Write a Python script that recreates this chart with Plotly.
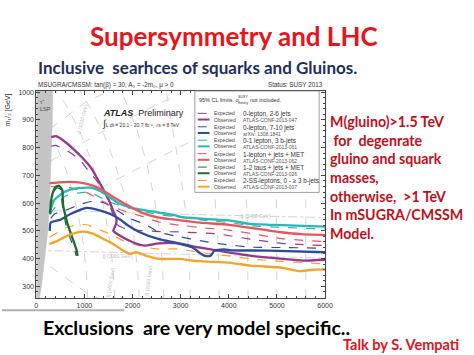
import plotly.graph_objects as go

W, H = 474, 355

# ---------------- data ----------------
analyses = ["0-lepton, 2-6 jets", "0-lepton, 7-10 jets", "0-1 lepton, 3 b-jets",
            "1-lepton + jets + MET", "1-2 taus + jets + MET", "2-SS-leptons, 0 - \u2265 3 b-jets"]
refs = ["ATLAS-CONF-2013-047", "arXiv: 1308.1841", "ATLAS-CONF-2013-061",
        "ATLAS-CONF-2013-062", "ATLAS-CONF-2013-026", "ATLAS-CONF-2013-007"]
colors = ["#94398f", "#2f4c9c", "#2bb8b2", "#e9555d", "#1d6b34", "#f3a42a"]

# 0-lepton 2-6 jets
obs0_m0 = [311, 413, 581, 785, 988, 1159, 1294, 1429, 1531, 1599, 1660, 1665, 1635, 1600, 1735, 2005, 2243, 2549, 2956, 3360, 3772, 4444, 5123, 5530, 6000]
obs0_m12 = [838, 841, 823, 793, 758, 722, 680, 638, 602, 572, 548, 530, 515, 501, 483, 459, 447, 455, 455, 441, 429, 411, 399, 393, 396]
exp0_m0 = [311, 400, 718, 921, 1090, 1260, 1395, 1497, 1565, 1633, 1700, 1900, 2500, 3000, 3767, 4450, 5100, 6000]
exp0_m12 = [805, 808, 781, 752, 716, 680, 644, 608, 572, 540, 520, 505, 498, 496, 489, 470, 455, 447]
# 0-lepton 7-10 jets
obs1_m0 = [280, 300, 500, 700, 1050, 1300, 1550, 1750, 1900, 2150, 2550, 2950, 3250, 3400, 3500, 3620, 3700, 3900, 4050, 4850, 6000]
obs1_m12 = [500, 530, 540, 560, 583, 575, 560, 540, 520, 495, 470, 455, 440, 420, 410, 410, 428, 433, 430, 429, 423]
exp1_m0 = [300, 380, 580, 920, 1190, 1400, 1670, 1940, 2280, 2550, 3000, 3400, 3830, 4500, 5200, 6000]
exp1_m12 = [545, 561, 572, 596, 608, 602, 575, 545, 522, 495, 478, 465, 453, 441, 440, 437]
# 0-1 lepton 3 b-jets
obs2_m0 = [277, 378, 581, 785, 1057, 1124, 1327, 1531, 1734, 2005, 2549, 2888, 3000, 3495, 4038, 4444, 4851, 5394, 6000]
obs2_m12 = [566, 612, 640, 652, 656, 656, 644, 620, 598, 582, 566, 556, 550, 543, 537, 525, 522, 519, 515]
exp2_m0 = [280, 600, 1100, 1500, 1800, 2500, 3000, 3500, 4000, 4500, 5000, 6000]
exp2_m12 = [560, 625, 640, 605, 588, 560, 549, 538, 530, 518, 513, 507]
# 1-lepton + jets + MET
obs3_m0 = [277, 580, 920, 1190, 1400, 1600, 1870, 2200, 2550, 3000, 3400, 4000, 4500, 5100, 5500, 6000]
obs3_m12 = [672, 676, 674, 662, 645, 622, 595, 565, 548, 538, 530, 522, 510, 495, 488, 485]
exp3_m0 = [300, 700, 1050, 1330, 1530, 1750, 2150, 2550, 3000, 3400, 4000, 4450, 5100, 6000]
exp3_m12 = [660, 656, 638, 612, 592, 576, 555, 532, 520, 512, 503, 491, 472, 461]
# 1-2 taus + jets + MET
obs4_m0 = [290, 300, 340, 400, 470, 540, 550, 560, 600, 650, 720, 780, 830, 860]
obs4_m12 = [560, 600, 635, 658, 663, 648, 620, 590, 560, 525, 490, 460, 435, 410]
exp4_m0 = [300, 360, 430, 500, 530, 560, 620, 700, 760, 800, 830]
exp4_m12 = [580, 640, 655, 650, 610, 570, 520, 475, 450, 430, 410]
# 2-SS-leptons
obs5_m0 = [277, 447, 650, 854, 988, 1192, 1395, 1599, 1802, 1938, 2073, 2276, 2549, 2956, 3360, 4038, 4444, 5123, 5462, 5733, 6000]
obs5_m12 = [453, 465, 483, 495, 497, 489, 471, 453, 429, 417, 423, 411, 399, 399, 391, 385, 375, 367, 355, 360, 361]
exp5_m0 = [277, 447, 650, 854, 1057, 1260, 1531, 1802, 2142, 2480, 2956, 3360, 4038, 4444, 5123, 6000]
exp5_m12 = [477, 495, 513, 522, 522, 507, 489, 465, 447, 435, 435, 423, 409, 399, 390, 381]

observed = [(obs0_m0, obs0_m12), (obs1_m0, obs1_m12), (obs2_m0, obs2_m12),
            (obs3_m0, obs3_m12), (obs4_m0, obs4_m12), (obs5_m0, obs5_m12)]
expected = [(exp0_m0, exp0_m12), (exp1_m0, exp1_m12), (exp2_m0, exp2_m12),
            (exp3_m0, exp3_m12), (exp4_m0, exp4_m12), (exp5_m0, exp5_m12)]

# stau-LSP boundary (m0 at given m1/2)
lsp_m0 = [0, 65, 108, 175, 240, 277, 300, 320, 335, 345, 0]
lsp_m12 = [257, 257, 300, 400, 500, 600, 700, 800, 900, 1004, 1004]

# iso-squark mass contours (read off, approximate)
squark_lines = [
    ([1070, 1040, 980, 880, 760, 600, 380], [257, 350, 450, 550, 640, 730, 820]),
    ([1630, 1600, 1540, 1440, 1320, 1150, 900, 600, 400], [257, 350, 450, 550, 650, 750, 860, 960, 1004]),
    ([2140, 2110, 2050, 1960, 1800, 1620, 1400, 1100, 900], [257, 350, 450, 550, 650, 750, 850, 950, 1004]),
    ([2650, 2620, 2560, 2450, 2300, 2100, 1850, 1750], [257, 380, 500, 620, 740, 860, 970, 1004]),
    ([3200, 3180, 3120, 3000, 2850, 2700], [257, 400, 550, 700, 850, 1004]),
    ([3800, 3780, 3700, 3600, 3500], [257, 450, 650, 800, 1004]),
    ([4400, 4390, 4350, 4300], [257, 500, 700, 1004]),
    ([5000, 4990, 4950], [257, 600, 1004]),
    ([5600, 5600], [257, 1004]),
]
gluino_lines = [
    ([0, 2000, 4000, 6000], [430, 420, 410, 402]),
    ([0, 3000, 6000], [575, 560, 548]),
]
higgs_lines = [
    ([300, 1000, 1500], [870, 960, 1004]),
    ([300, 1500, 3100], [752, 870, 1004]),
    ([1330, 2500, 3300], [655, 760, 830]),
    ([300, 700, 1100, 1300], [370, 320, 270, 257]),
]

x_ticks = [0, 1000, 2000, 3000, 4000, 5000, 6000]
y_ticks = [300, 400, 500, 600, 700, 800, 900, 1000]

right_lines = ["M(gluino)>1.5 TeV", "\u00a0for\u00a0 degenrate", "gluino and squark", "masses,",
               "otherwise,\u00a0 >1 TeV", "In mSUGRA/CMSSM", "Model."]

# ---------------- helpers ----------------
def px(x):
    return x / W

def py(y):
    return 1 - y / H

X0, X1 = 35, 330
Y0, Y1 = 89.5, 298

fig = go.Figure()

GRAY = "#cfcfcf"
for xs, ys in squark_lines:
    fig.add_trace(go.Scatter(x=xs, y=ys, mode="lines", line=dict(color=GRAY, width=0.9, dash="dash"),
                             hoverinfo="skip", showlegend=False))
for xs, ys in gluino_lines:
    fig.add_trace(go.Scatter(x=xs, y=ys, mode="lines", line=dict(color=GRAY, width=0.9, dash="dashdot"),
                             hoverinfo="skip", showlegend=False))
for xs, ys in higgs_lines:
    fig.add_trace(go.Scatter(x=xs, y=ys, mode="lines", line=dict(color=GRAY, width=0.9, dash="dash"),
                             hoverinfo="skip", showlegend=False))

fig.add_trace(go.Scatter(x=lsp_m0, y=lsp_m12, mode="lines", fill="toself", fillcolor="#c4c4c4",
                         line=dict(color="#c4c4c4", width=0.5), hoverinfo="skip", showlegend=False))

for (xs, ys), c in zip(expected, colors):
    fig.add_trace(go.Scatter(x=xs, y=ys, mode="lines", line=dict(color=c, width=1.2, dash="dash", shape="spline", smoothing=0.5),
                             hoverinfo="skip", showlegend=False))
for (xs, ys), c in zip(observed, colors):
    fig.add_trace(go.Scatter(x=xs, y=ys, mode="lines", line=dict(color=c, width=2.3, shape="spline", smoothing=0.5),
                             hoverinfo="skip", showlegend=False))

shapes = []
annotations = []

SMALL = "Liberation Sans"

def note(x, y, text, size, color="#333", xanchor="left", family=SMALL, **kw):
    return dict(x=px(x), y=py(y), xref="paper", yref="paper", xanchor=xanchor, yanchor="middle",
                text=text, showarrow=False, font=dict(family=family, size=size, color=color), **kw)

# legend box
LX0, LX1, LY0, LY1 = 197, 324, 89.5, 191.5
shapes.append(dict(type="rect", xref="paper", yref="paper", x0=px(LX0), x1=px(LX1), y0=py(LY1), y1=py(LY0),
                   fillcolor="white", line=dict(color="#888", width=0.8), layer="above"))
tight = dict(borderpad=0, borderwidth=0)
annotations += [
    note(201, 98.5, "95% CL limits. \u03c3", 5.5, **tight),
    note(241.5, 95.2, "SUSY", 3.6, **tight),
    note(241.5, 101.3, "theory", 3.6, **tight),
    note(253, 98.5, "not included.", 5.5, **tight),
]
for i, (name, ref, c) in enumerate(zip(analyses, refs, colors)):
    ye = 112 + i * 13.5
    yo = ye + 6.2
    shapes.append(dict(type="line", xref="paper", yref="paper", x0=px(200), x1=px(212), y0=py(ye), y1=py(ye),
                       line=dict(color=c, width=1, dash="dash"), layer="above"))
    shapes.append(dict(type="line", xref="paper", yref="paper", x0=px(200), x1=px(212), y0=py(yo), y1=py(yo),
                       line=dict(color=c, width=2), layer="above"))
    annotations.append(note(215, ye, "Expected", 5, "#444"))
    annotations.append(note(215, yo, "Observed", 5, "#444"))
    annotations.append(note(244, ye + 1, name, 6.4))
    annotations.append(note(244, yo + 0.7, ref, 5, "#555"))

# plot texts
annotations += [
    note(35, 83, "MSUGRA/CMSSM: tan(\u03b2) = 30, A\u2080 = -2m\u2080, \u03bc > 0", 6.3),
    note(330, 83, "Status: SUSY 2013", 6.3, xanchor="right"),
    note(101, 111.5, "<b><i>ATLAS</i></b>  Preliminary", 9, "#222"),
    note(100, 122, "<span style='font-size:10px'>\u222b</span>L dt = 20.1 - 20.7 fb\u207b\u00b9, \u221as = 8 TeV", 5),
    note(37, 104, "\u03c4\u0303<br>LSP", 5.5, "#444", align="left"),
    note(7, 108, "m\u2081/\u2082 [GeV]", 7, xanchor="center", textangle=-90),
    note(100, 255, "g\u0303 (1000 GeV)", 5, "#bbb"),
    note(241, 215, "g\u0303 (1400 GeV)", 5, "#bbb"),
    note(111, 282, "q\u0303 (1600 GeV)", 5, "#bbb", xanchor="center", textangle=-80),
    note(150, 280, "q\u0303 (2000 GeV)", 5, "#bbb", xanchor="center", textangle=-82),
    note(82, 118, "q\u0303 (1200 GeV)", 5, "#bbb", xanchor="center", textangle=-75),
]

# slide texts
annotations += [
    dict(x=px(237), y=py(34), xref="paper", yref="paper", xanchor="center", yanchor="middle", showarrow=False,
         text="Supersymmetry and LHC", font=dict(family="Lato", size=26, color="#e8141c", weight="bold")),
    dict(x=px(35), y=py(66), xref="paper", yref="paper", xanchor="left", yanchor="middle", showarrow=False,
         text="Inclusive\u00a0 searhces of squarks and Gluinos.", font=dict(family="Lato", size=17, color="#1c2f5e", weight="bold")),
    dict(x=px(40), y=py(327), xref="paper", yref="paper", xanchor="left", yanchor="middle", showarrow=False,
         text="Exclusions\u00a0 are very model specific..", font=dict(family="Lato", size=19.5, color="#000", weight="bold")),
    dict(x=px(469), y=py(344), xref="paper", yref="paper", xanchor="right", yanchor="middle", showarrow=False,
         text="Talk by S. Vempati", font=dict(family="Lato", size=14.5, color="#e0141e", weight="bold")),
]
for k, line in enumerate(right_lines):
    annotations.append(dict(x=px(333), y=py(120 + 18.8 * k), xref="paper", yref="paper", xanchor="left",
                            yanchor="middle", showarrow=False, text=line,
                            font=dict(family="Lato", size=14.2, color="#c0101c", weight="bold")))

shapes.append(dict(type="line", xref="paper", yref="paper", x0=0, x1=px(125), y0=py(310), y1=py(310),
                   line=dict(color="#b0b0b0", width=2)))

axis_common = dict(showgrid=False, zeroline=False, showline=True, linecolor="#444", linewidth=0.8,
                   mirror="ticks", ticks="inside", ticklen=4, tickcolor="#444", tickwidth=0.7,
                   tickfont=dict(family=SMALL, size=7, color="#333"))

fig.update_layout(
    width=W, height=H, margin=dict(l=0, r=0, t=0, b=0),
    paper_bgcolor="white", plot_bgcolor="white",
    xaxis=dict(range=[0, 6000], domain=[px(X0), px(X1)], tickvals=x_ticks,
               minor=dict(dtick=200, ticks="inside", ticklen=2, tickcolor="#444"), **axis_common),
    yaxis=dict(range=[257, 1004], domain=[py(Y1), py(Y0)], tickvals=y_ticks,
               minor=dict(dtick=20, ticks="inside", ticklen=2, tickcolor="#444"), **axis_common),
    shapes=shapes, annotations=annotations, showlegend=False,
)

fig.write_html("out.html", config={"displayModeBar": False},
               post_script="document.body.style.margin='0';document.body.style.overflow='hidden';")
